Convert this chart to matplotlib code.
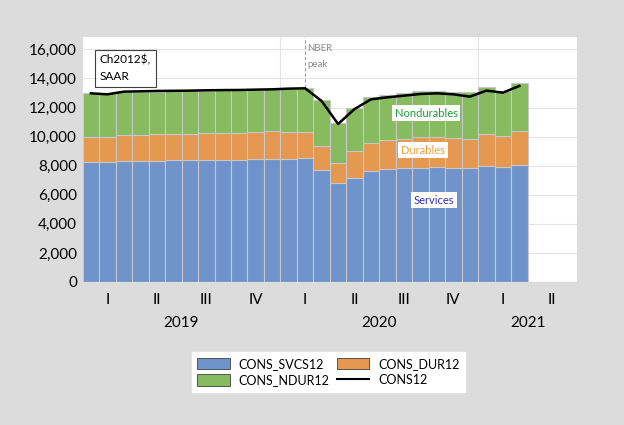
import matplotlib
matplotlib.use('Agg')
import matplotlib.pyplot as plt
from matplotlib.patches import Patch
from matplotlib.lines import Line2D
import numpy as np

plt.rcParams['font.family'] = ['Lato', 'DejaVu Sans']

# monthly, Jan 2019 - Mar 2021, bn Ch2012$ SAAR
months = ['2019-01', '2019-02', '2019-03', '2019-04', '2019-05', '2019-06',
          '2019-07', '2019-08', '2019-09', '2019-10', '2019-11', '2019-12',
          '2020-01', '2020-02', '2020-03', '2020-04', '2020-05', '2020-06',
          '2020-07', '2020-08', '2020-09', '2020-10', '2020-11', '2020-12',
          '2021-01', '2021-02', '2021-03']
svcs = [8267, 8267, 8313, 8336, 8336, 8382, 8382, 8382, 8405, 8405, 8451, 8451,
        8474, 8520, 7718, 6777, 7121, 7603, 7741, 7810, 7856, 7879, 7856, 7856,
        7948, 7879, 8062]
dur = [1725, 1725, 1771, 1748, 1817, 1794, 1794, 1840, 1817, 1840, 1840, 1909,
       1817, 1771, 1608, 1378, 1883, 1975, 1998, 2044, 2090, 2067, 2021, 1975,
       2205, 2136, 2320]
ndur = [3031, 3031, 2962, 2985, 2939, 2939, 2962, 2939, 2962, 2962, 2939, 2916,
        3008, 3031, 3169, 2802, 2940, 3124, 3100, 3123, 3169, 3192, 3169, 3238,
        3238, 3123, 3330]
cons = [12977, 12908, 13092, 13115, 13138, 13150, 13161, 13184, 13200, 13207,
        13230, 13253, 13299, 13322, 12449, 10865, 11898, 12564, 12702, 12817,
        12931, 12977, 12908, 12748, 13161, 13023, 13483]

q_labels = ['I', 'II', 'III', 'IV'] * 2 + ['I', 'II']
years = ['2019', '2020', '2021']

c_svc = '#7093cb'
c_dur = '#e5984f'
c_ndur = '#86bb5f'
bg = '#dcdcdc'

x = np.arange(len(months))
svcs = np.array(svcs)
dur = np.array(dur)
ndur = np.array(ndur)

fig = plt.figure(figsize=(6.24, 4.25), dpi=100, facecolor=bg)
ax = fig.add_axes([0.1325, 0.3365, 0.7922, 0.5771])
ax.set_facecolor('white')

ax.bar(x, svcs, width=1.0, color=c_svc, edgecolor='#c8c8c8', linewidth=0.8, zorder=2)
ax.bar(x, dur, bottom=svcs, width=1.0, color=c_dur, edgecolor='#c8c8c8', linewidth=0.8, zorder=2)
ax.bar(x, ndur, bottom=svcs + dur, width=1.0, color=c_ndur, edgecolor='#c8c8c8', linewidth=0.8, zorder=2)
ax.plot(x, cons, color='black', lw=1.8, zorder=4)

ax.set_xlim(-0.5, 29.5)
ax.set_ylim(0, 16870)
ax.set_yticks(np.arange(0, 16001, 2000))
ax.set_yticklabels([f'{v:,}' for v in range(0, 16001, 2000)], fontsize=11)
ax.yaxis.grid(True, color='#e3e3e3', lw=0.8, zorder=0)
for b in [11.5, 23.5]:
    ax.axvline(b, color='#e3e3e3', lw=0.8, zorder=0)

ax.set_xticks(np.arange(1, 30, 3))
ax.set_xticklabels(q_labels, fontsize=11)
ax.tick_params(axis='both', length=0, pad=4)
ax.tick_params(axis='x', pad=8)
for s in ax.spines.values():
    s.set_visible(False)
ax.axhline(0, color='#d0d0d0', lw=0.8, zorder=3)

# year labels
for yr, pos in zip(years, [5.5, 17.5, 26.5]):
    ax.text(pos, -2843, yr, ha='center', va='center', fontsize=11,
            transform=ax.transData, clip_on=False)

# NBER peak
ax.axvline(13, color='#a0a0a0', lw=0.8, ls=(0, (3, 2)), zorder=1)
ax.text(13.15, 16050, 'NBER', color='#8c8c8c', fontsize=7, va='center')
ax.text(13.15, 14950, 'peak', color='#8c8c8c', fontsize=7, va='center')

ax.text(0.035, 0.872, 'Ch2012$,\nSAAR', transform=ax.transAxes, fontsize=8.5,
        va='center', ha='left', linespacing=1.6,
        bbox=dict(boxstyle='square,pad=0.4', fc='white', ec='#404040', lw=0.8))

ax.text(20.34, 11614, 'Nondurables', color='#1f9a3c', fontsize=8, ha='center', va='center',
        zorder=5, bbox=dict(boxstyle='square,pad=0.25', fc='white', ec='none'))
ax.text(20.16, 9067, 'Durables', color='#e8a040', fontsize=8, ha='center', va='center',
        zorder=5, bbox=dict(boxstyle='square,pad=0.25', fc='white', ec='none'))
ax.text(20.83, 5625, 'Services', color='#3030c0', fontsize=8, ha='center', va='center',
        zorder=5, bbox=dict(boxstyle='square,pad=0.25', fc='white', ec='none'))

# legend filled column-wise, so order gives rows SVCS/DUR, NDUR/CONS
handles = [Patch(fc=c_svc, ec='#404040', lw=0.6, label='CONS_SVCS12'),
           Patch(fc=c_ndur, ec='#404040', lw=0.6, label='CONS_NDUR12'),
           Patch(fc=c_dur, ec='#404040', lw=0.6, label='CONS_DUR12'),
           Line2D([0], [0], color='black', lw=1.5, label='CONS12')]
leg = fig.legend(handles=handles, ncol=2, loc='center', bbox_to_anchor=(0.5264, 0.1247),
                 fontsize=9, frameon=True, fancybox=False, edgecolor='white',
                 framealpha=1, handlelength=2.6, handleheight=1.05, columnspacing=0.6,
                 handletextpad=0.7, labelspacing=0.35, borderpad=0.45)

fig.savefig('out.png', dpi=100, facecolor=bg)
